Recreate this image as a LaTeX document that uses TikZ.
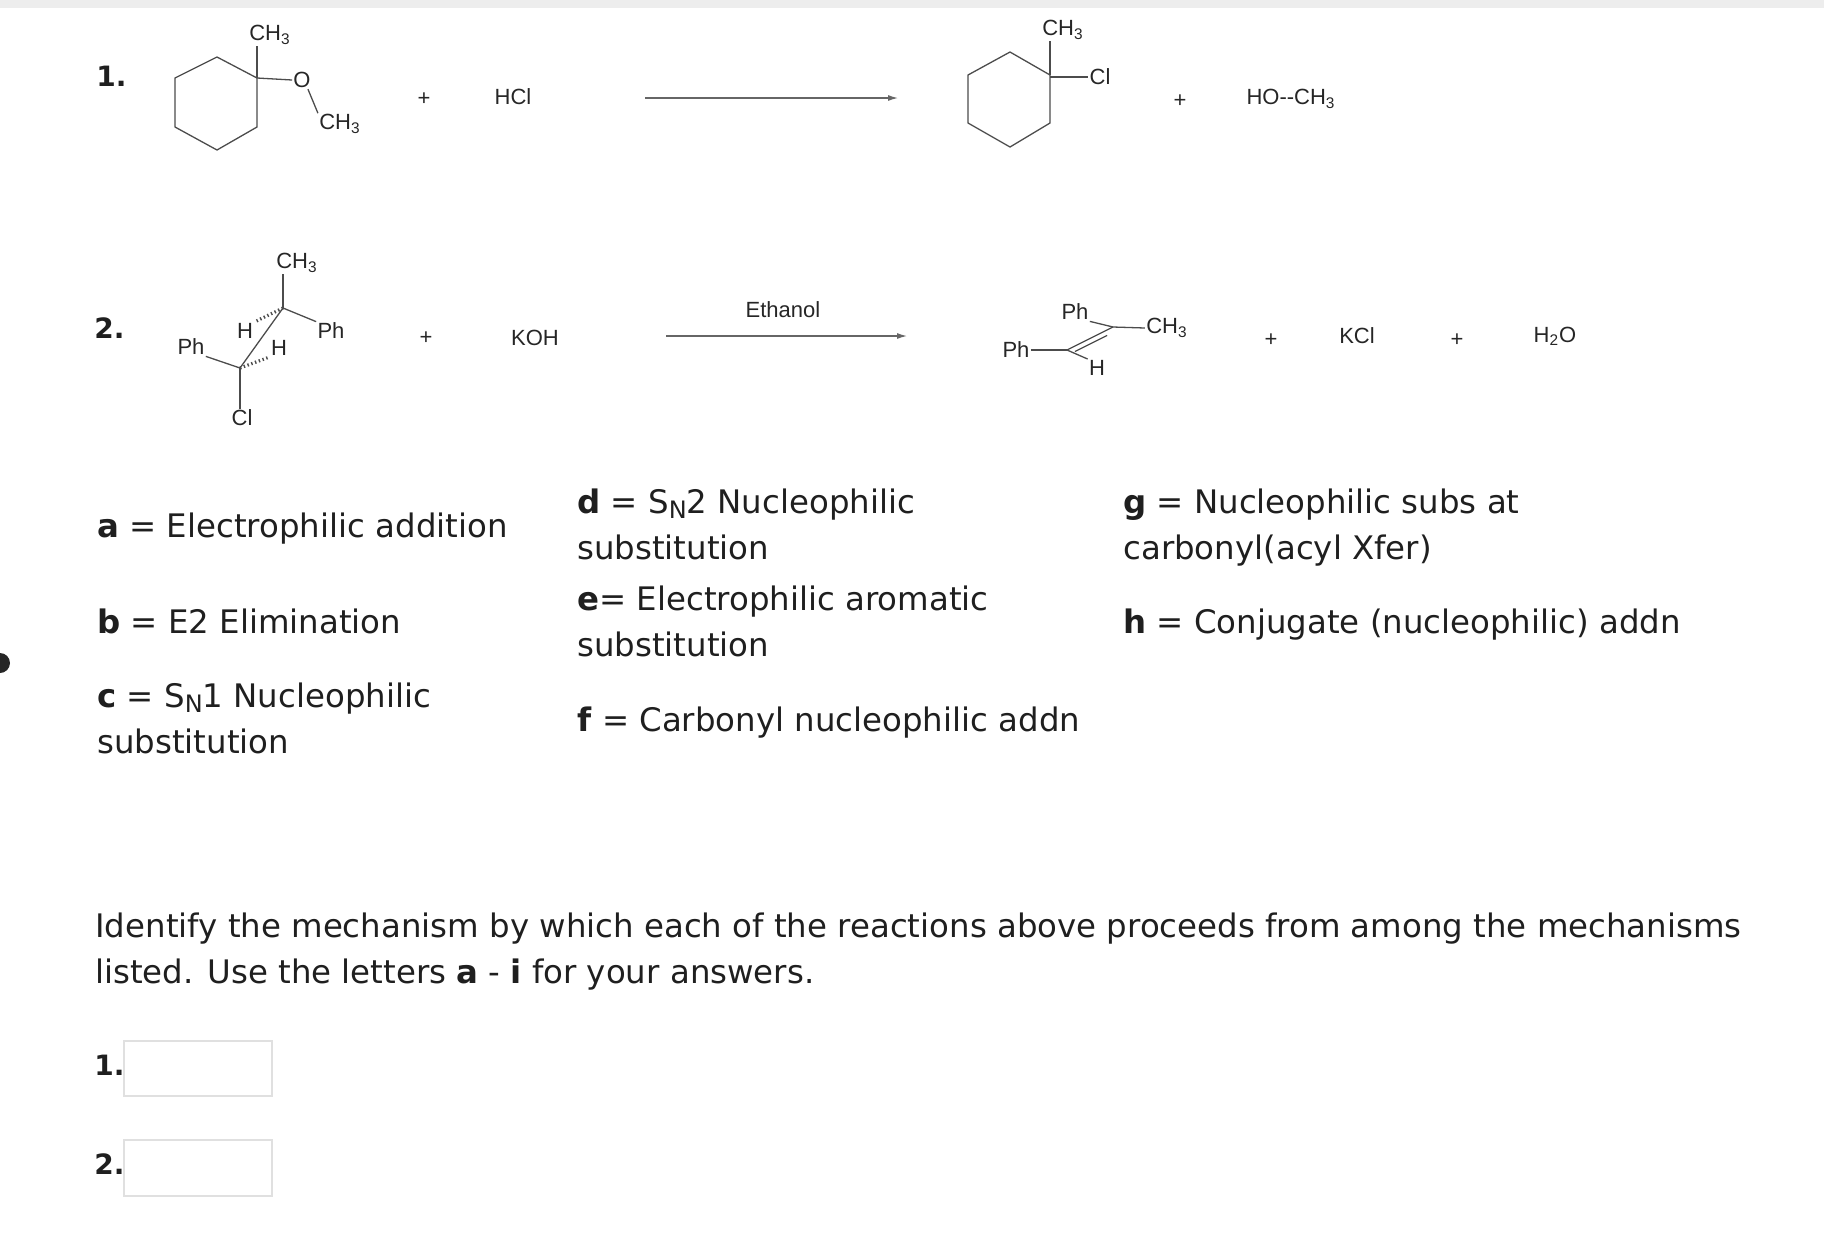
\documentclass[tikz,border=0pt]{standalone}
\usepackage{fontspec}
\setmainfont{DejaVu Sans}
\newfontfamily\chemfont{Liberation Sans}
\usetikzlibrary{arrows.meta,calc}
\definecolor{bondc}{gray}{0.3}
\tikzset{
 bond/.style={draw=bondc,line width=0.65pt},
 hbond/.style={draw=bondc,line width=1.6pt,dash pattern=on 0.7pt off 1.3pt},
 lbl/.style={inner sep=0.5pt,font=\chemfont\fontsize{11}{12}\selectfont,text=black!85},
 txt/.style={anchor=base west,inner sep=0,font=\fontsize{16.2}{20}\selectfont,text=black!88},
 num/.style={anchor=base west,inner sep=0,font=\bfseries\fontsize{14}{16}\selectfont,text=black!88},
 rarrow/.style={draw=black!60,line width=0.6pt,-{Latex[length=5pt,width=3pt]}},
 ansbox/.style={draw=black!12,line width=0.6pt}
}
\newcommand{\SNsub}{S\raisebox{-0.3ex}{\fontsize{12}{12}\selectfont N}}
\begin{document}
\begin{tikzpicture}[x=0.5pt,y=-0.5pt]
\useasboundingbox (0,0) rectangle (1824,1238);
\fill[black!7] (0,0) rectangle (1824,8);
\fill[black!85] (0,663) circle (10);
% reaction 1
\node[num] (n1) at (96,86) {1.};
\draw[bond] (217,57)--(257,78)--(257,127)--(217,150)--(175,127)--(175,78)--cycle;
\node[lbl] (c1m) at (270,35) {CH\textsubscript{3}};
\node[lbl] (c1o) at (302,80) {O};
\node[lbl] (c1m2) at (340,124) {CH\textsubscript{3}};
\draw[bond] (257,78)--(c1m.south -| 257,78);
\draw[bond] (257,78)--(c1o.west);
\draw[bond] (c1o.south east)++(-4,0) -- (c1m2.north west);
\node[lbl] (p1) at (424,99) {+};
\node[lbl] (hcl) at (513,97) {HCl};
\coordinate (a1s) at (645,98);
\coordinate (a1e) at (898,98);
\draw[rarrow] (a1s)--(a1e);
\draw[bond] (1010,52)--(1050,75)--(1050,123)--(1010,147)--(968,123)--(968,75)--cycle;
\node[lbl] (c2m) at (1063,30) {CH\textsubscript{3}};
\node[lbl] (c2cl) at (1100,77) {Cl};
\draw[bond] (1050,75)--(c2m.south -| 1050,75);
\draw[bond] (1050,77)--(c2cl.west);
\node[lbl] (p2) at (1180,101) {+};
\node[lbl] (hoch) at (1291,99) {HO--CH\textsubscript{3}};
% reaction 2
\node[num] (n2) at (94,338) {2.};
\node[lbl] (r2m) at (297,263) {CH\textsubscript{3}};
\node[lbl] (r2ph1) at (331,331) {Ph};
\node[lbl] (r2h1) at (245,331) {H};
\node[lbl] (r2ph2) at (191,347) {Ph};
\node[lbl] (r2h2) at (279,348) {H};
\node[lbl] (r2cl) at (242,418) {Cl};
\coordinate (ca) at (283,308);
\coordinate (cb) at (240,368);
\draw[bond] (ca)--(r2m.south -| ca);
\draw[bond] (ca)--(r2ph1.north west);
\draw[hbond] (ca)--(r2h1.north east);
\draw[bond] (ca)--(cb);
\draw[bond] (cb)--(r2ph2.south east);
\draw[hbond] (cb)--(r2h2.south west);
\draw[bond] (cb)--(r2cl.north -| cb);
\node[lbl] (p3) at (426,338) {+};
\node[lbl] (koh) at (535,338) {KOH};
\node[lbl] (eth) at (783,310) {Ethanol};
\coordinate (a2s) at (666,336);
\coordinate (a2e) at (907,336);
\draw[rarrow] (a2s)--(a2e);
\node[lbl] (q2ph1) at (1016,350) {Ph};
\node[lbl] (q2ph2) at (1075,312) {Ph};
\node[lbl] (q2m) at (1167,328) {CH\textsubscript{3}};
\node[lbl] (q2h) at (1097,368) {H};
\coordinate (cc) at (1067,350);
\coordinate (cd) at (1113,327);
\draw[bond] (q2ph1.east)--(cc);
\draw[bond] (cc)--(cd);
\draw[bond] ($(cc)!0.15!(cd)+(1,5)$) -- ($(cc)!0.85!(cd)+(1,5)$);
\draw[bond] (cd)--(q2m.west);
\draw[bond] (cd)--(q2ph2.south east);
\draw[bond] (cc)--(q2h.north west);
\node[lbl] (p4) at (1271,340) {+};
\node[lbl] (kcl) at (1357,336) {KCl};
\node[lbl] (p5) at (1457,340) {+};
\node[lbl] (h2o) at (1555,336) {H\textsubscript{2}O};
% mechanisms
\node[txt] (ma) at (97,537) {\textbf{a} = Electrophilic addition};
\node[txt] (mb) at (97,633) {\textbf{b} = E2 Elimination};
\node[txt] (mc1) at (97,707) {\textbf{c} = \SNsub1 Nucleophilic};
\node[txt] (mc2) at (97,753) {substitution};
\node[txt] (md1) at (577,513) {\textbf{d} = \SNsub2 Nucleophilic};
\node[txt] (md2) at (577,559) {substitution};
\node[txt] (me1) at (577,610) {\textbf{e}= Electrophilic aromatic};
\node[txt] (me2) at (577,656) {substitution};
\node[txt] (mf) at (577,731) {\textbf{f} = Carbonyl nucleophilic addn};
\node[txt] (mg1) at (1123,513) {\textbf{g} = Nucleophilic subs at};
\node[txt] (mg2) at (1123,559) {carbonyl(acyl Xfer)};
\node[txt] (mh) at (1123,633) {\textbf{h} = Conjugate (nucleophilic) addn};
\node[txt] (q1) at (95,937) {Identify the mechanism by which each of the reactions above proceeds from among the mechanisms};
\node[txt] (q2) at (95,983) {listed. Use the letters \textbf{a} - \textbf{i} for your answers.};
\node[num] (an1) at (94,1075) {1.};
\draw[ansbox] (124,1041) rectangle (272,1096);
\node[num] (an2) at (94,1174) {2.};
\draw[ansbox] (124,1140) rectangle (272,1196);
\end{tikzpicture}
\end{document}
